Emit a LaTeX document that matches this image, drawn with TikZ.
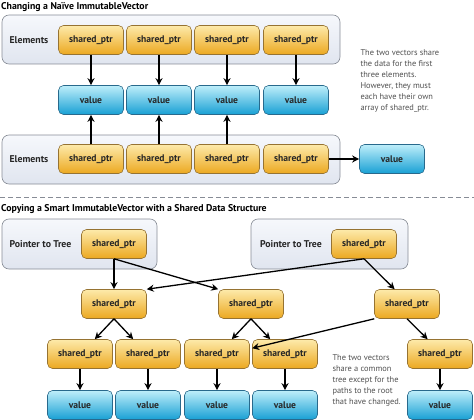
\documentclass[tikz,border=0pt]{standalone}
\usepackage{fontspec}
\setmainfont{PT Sans}
\usepackage{tikz}
\usetikzlibrary{arrows.meta}

\definecolor{ptrtop}{RGB}{253,234,170}
\definecolor{ptrbot}{RGB}{236,168,32}
\definecolor{ptrline}{RGB}{150,115,50}
\definecolor{valtop}{RGB}{190,238,250}
\definecolor{valbot}{RGB}{24,160,212}
\definecolor{valline}{RGB}{40,105,140}
\definecolor{boxtop}{RGB}{246,248,252}
\definecolor{boxbot}{RGB}{224,229,239}
\definecolor{boxline}{RGB}{135,140,150}
\definecolor{notetext}{RGB}{80,80,80}

\begin{document}
\begin{tikzpicture}[x=1pt, y=-1pt,
    ptr/.style={draw=ptrline, line width=0.6pt, rounded corners=5pt, top color=ptrtop, bottom color=ptrbot,
        minimum width=65pt, minimum height=29pt, font=\fontsize{9.6}{11}\selectfont\bfseries, text=black!85},
    val/.style={ptr, draw=valline, top color=valtop, bottom color=valbot},
    holder/.style={draw=boxline, line width=0.6pt, rounded corners=7pt, top color=boxtop, bottom color=boxbot},
    lbl/.style={font=\fontsize{9.8}{11}\selectfont\bfseries, text=black!85},
    heading/.style={font=\fontsize{9.8}{11}\selectfont\bfseries, anchor=west, inner sep=1pt},
    note/.style={font=\fontsize{8.4}{11}\selectfont, text=notetext, align=left, anchor=north west},
    arr/.style={-{Stealth[length=7pt, width=7pt]}, line width=1.3pt}]
    \useasboundingbox (0,0) rectangle (474,420);

    % naive vector
    \node[heading] (title1) at (0,7) {Changing a Naïve ImmutableVector};
    \node[holder, minimum width=338pt, minimum height=49pt] (elemsA) at (171,39.5) {};
    \node[holder, minimum width=338pt, minimum height=49pt] (elemsB) at (171,159.5) {};
    \node[lbl] (labA) at (29,40) {Elements};
    \node[lbl] (labB) at (29,159) {Elements};

    \foreach \i/\x in {1/91, 2/159, 3/227, 4/296} {
        \node[ptr] (pa\i) at (\x,40) {shared\_ptr};
        \node[val] (va\i) at (\x,100) {value};
        \node[ptr] (pb\i) at (\x,159) {shared\_ptr};
        \draw[arr] (pa\i) -- (va\i);
    }
    \foreach \i in {1,2,3}
        \draw[arr] (pb\i) -- (va\i);
    \node[val] (vnew) at (392,159) {value};
    \draw[arr] (pb4) -- (vnew);

    \node[note] (noteA) at (357,46) {The two vectors share\\the data for the first\\three elements.\\However, they must\\each have their own\\array of shared\_ptr.};

    \draw[boxline, line width=0.6pt, dash pattern=on 5pt off 3pt] (0,197) -- (474,197);

    % smart vector
    \node[heading] (title2) at (0,209) {Copying a Smart ImmutableVector with a Shared Data Structure};
    \node[holder, minimum width=155pt, minimum height=50pt] (treeA) at (79.5,244) {};
    \node[holder, minimum width=157pt, minimum height=50pt] (treeB) at (329.5,244) {};
    \node[lbl] (labC) at (40.5,244) {Pointer to Tree};
    \node[lbl] (labD) at (291,244) {Pointer to Tree};
    \node[ptr] (rootA) at (114,244) {shared\_ptr};
    \node[ptr] (rootB) at (364,244) {shared\_ptr};

    \node[ptr] (midA) at (114,304) {shared\_ptr};
    \node[ptr] (midB) at (251,304) {shared\_ptr};
    \node[ptr] (midC) at (407,304) {shared\_ptr};

    \foreach \i/\x in {1/80, 2/148, 3/217, 4/285, 5/440} {
        \node[ptr] (leaf\i) at (\x,354) {shared\_ptr};
        \node[val] (lv\i) at (\x,405) {value};
        \draw[arr] (leaf\i) -- (lv\i);
    }

    \draw[arr] (rootA.south) -- (midA.north);
    \draw[arr] (rootA.south) -- (midB.north west);
    \draw[arr] (rootB.south) -- (midA.north east);
    \draw[arr] (rootB.south) -- (midC.130);
    \draw[arr] (midA.south) -- (leaf1.45);
    \draw[arr] (midA.south) -- (leaf2.135);
    \draw[arr] (midB.south) -- (leaf3.45);
    \draw[arr] (midB.south) -- (leaf4.135);
    \draw[arr] (midC.south west) -- (leaf4.170);
    \draw[arr] (midC.south) -- (leaf5.130);

    \node[note] (noteB) at (329,351) {The two vectors\\share a common\\tree except for the\\paths to the root\\that have changed.};
\end{tikzpicture}
\end{document}
